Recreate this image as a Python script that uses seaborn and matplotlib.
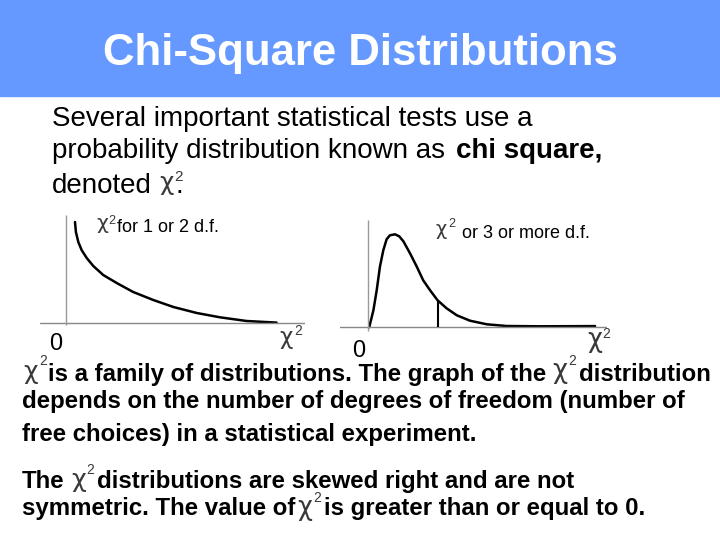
import numpy as np
import pandas as pd
import matplotlib
matplotlib.use("Agg")
import matplotlib.pyplot as plt
from matplotlib.patches import Rectangle
from matplotlib.textpath import TextPath
from matplotlib.font_manager import FontProperties
import seaborn as sns

# Curve readings (chi-square value, relative density)
low_df_x = [0.31, 0.34, 0.42, 0.53, 0.70, 0.92, 1.25, 1.70, 2.25, 2.92,
            3.59, 4.37, 5.14, 6.03, 7.03]
low_df_y = [1.01, 0.91, 0.81, 0.73, 0.65, 0.57, 0.48, 0.40, 0.31, 0.23,
            0.16, 0.10, 0.057, 0.02, 0.004]
high_df_x = [0.03, 0.17, 0.28, 0.39, 0.50, 0.61, 0.72, 0.89, 1.03, 1.17,
             1.39, 1.61, 1.83, 2.06, 2.31, 2.61, 2.95, 3.39, 3.95, 4.61,
             5.72, 7.56]
high_df_y = [0.0, 0.17, 0.37, 0.61, 0.77, 0.88, 0.92, 0.93, 0.91, 0.86,
             0.74, 0.61, 0.47, 0.37, 0.27, 0.19, 0.12, 0.066, 0.03, 0.013,
             0.01, 0.012]
crit_value = 2.31
crit_height = 0.27

sns.set_theme(style="white")
plt.rcParams["font.family"] = ["Liberation Sans", "DejaVu Sans"]

W, H = 720, 540
fig = plt.figure(figsize=(7.2, 5.4), dpi=100)
fig.patch.set_facecolor("white")

# header band
fig.patches.append(Rectangle((0, 1 - 96 / H), 1, 96 / H, transform=fig.transFigure,
                             color="#6699ff", zorder=0))

CHI_FONT = FontProperties(family="DejaVu Sans")
chi_ext = TextPath((0, 0), "χ", size=1, prop=CHI_FONT).get_extents()


def put(x, y, s, **kw):
    kw.setdefault("va", "baseline")
    kw.setdefault("ha", "left")
    kw.setdefault("color", "black")
    return fig.text(x / W, 1 - y / H, s, **kw)


def chi(left, right, top, bottom, sup_x, sup_base, sup_size=10):
    # size the glyph so its ink roughly fills the box seen on the slide
    em = np.sqrt((bottom - top) / chi_ext.height * (right - left) / chi_ext.width)
    cx, cy = (left + right) / 2, (top + bottom) / 2
    x0 = cx - (chi_ext.x0 + chi_ext.width / 2) * em
    base = cy + (chi_ext.y0 + chi_ext.height / 2) * em
    put(x0, base, "χ", family="DejaVu Sans", fontsize=em * 0.72, color="#3a3a3a")
    put(sup_x, sup_base, "2", fontsize=sup_size, color="#3a3a3a")


def add_axes_px(left, right, top, bottom):
    return fig.add_axes([left / W, 1 - bottom / H, (right - left) / W, (bottom - top) / H])


put(360, 65, "Chi-Square Distributions", ha="center", fontsize=31.5,
    fontweight="bold", color="white")

# intro paragraph
ikw = dict(fontsize=20)
put(51.7, 126, "Several important statistical tests use a", **ikw)
put(51.7, 158, "probability distribution known as", **ikw)
put(456, 158, "chi square,", fontweight="bold", **ikw)
put(51.7, 193, "denoted", **ikw)
chi(159, 173, 176.7, 194, 174.5, 181, sup_size=11)
put(176, 193, ".", **ikw)

# left chart: 1 or 2 d.f.
ax1 = add_axes_px(40, 305, 213, 333)
sns.lineplot(x=low_df_x, y=low_df_y, ax=ax1, color="black", lw=1.8)
ax1.set_xlim(-(65.7 - 40) / 30, (305 - 65.7) / 30)
ax1.set_ylim(-0.1, 1.1)
ax1.axhline(0, color="#888888", lw=1.0)
ax1.vlines(0, -0.02, 1.08, color="#999999", lw=1.0)
ax1.axis("off")

# right chart: 3 or more d.f.
ax2 = add_axes_px(340, 607, 217.3, 337.3)
sns.lineplot(x=high_df_x, y=high_df_y, ax=ax2, color="black", lw=1.8)
ax2.set_xlim(-(368.3 - 340) / 30, (607 - 368.3) / 30)
ax2.set_ylim(-0.1, 1.1)
ax2.axhline(0, color="#888888", lw=1.0)
ax2.vlines(0, -0.04, 1.07, color="#999999", lw=1.0)
ax2.vlines(crit_value, 0, crit_height, color="black", lw=1.5)
ax2.axis("off")

# chart labels
chi(97, 108, 218, 233, 108, 223.5, sup_size=9)
put(117.3, 232, "for 1 or 2 d.f.", fontsize=13)
chi(436, 446.7, 225, 239, 448, 227, sup_size=9)
put(462.3, 238, "or 3 or more d.f.", fontsize=13)

put(49.3, 350, "0", fontsize=17)
chi(280, 293, 331.7, 348, 294, 335, sup_size=10)
put(351.7, 357, "0", fontsize=17)
chi(588, 601.7, 333, 352, 602, 338, sup_size=10)

# body text
bkw = dict(fontsize=17.3, fontweight="bold")
chi(23.3, 38.3, 366.7, 383.3, 39.3, 365)
put(47.7, 381, "is a family of distributions. The graph of the", **bkw)
chi(551.7, 567.3, 365, 382, 568.5, 365)
put(579.3, 381, "distribution", **bkw)
put(22, 408.3, "depends on the number of degrees of freedom (number of", **bkw)
put(22, 441, "free choices) in a statistical experiment.", **bkw)
put(22, 488, "The", **bkw)
chi(71, 86, 474, 491, 86.5, 474)
put(97.3, 488, "distributions are skewed right and are not", **bkw)
put(22, 515, "symmetric. The value of", **bkw)
chi(297.3, 312.7, 502, 519, 313, 502)
put(324, 515, "is greater than or equal to 0.", **bkw)

fig.savefig("out.png", dpi=100)
